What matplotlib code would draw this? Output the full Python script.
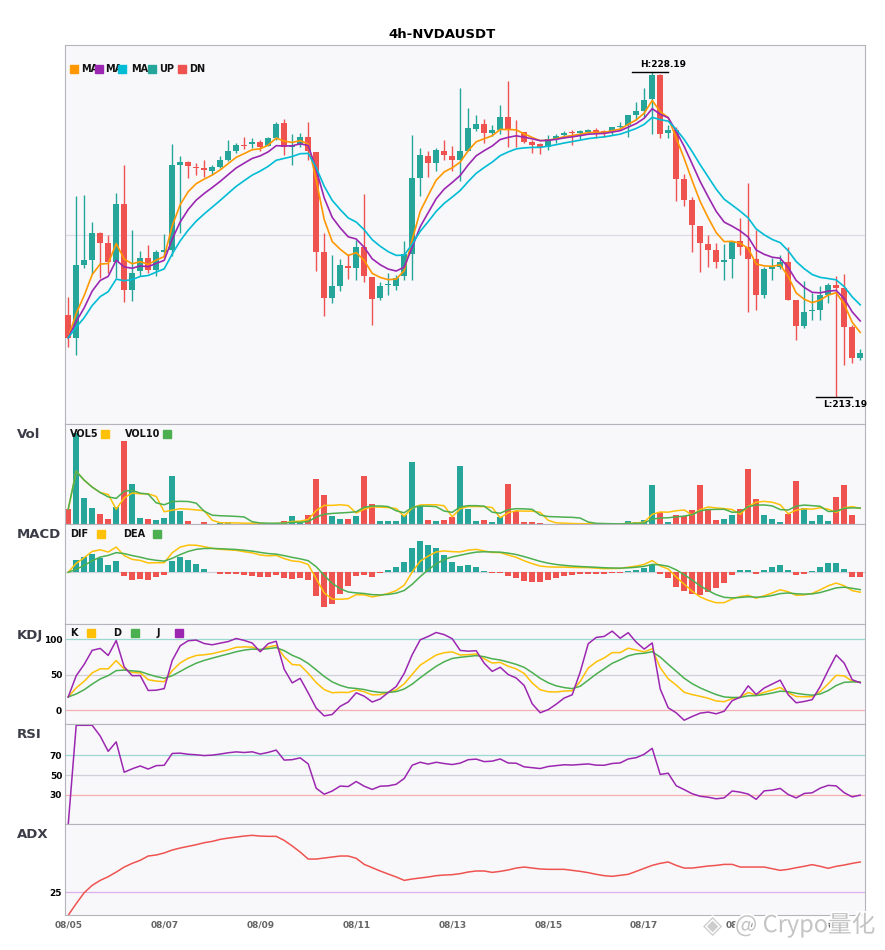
import numpy as np
import pandas as pd
import matplotlib
matplotlib.use('Agg')
import matplotlib.pyplot as plt
from matplotlib.patches import Rectangle
import matplotlib.patheffects as pe

# 4h candles, 08/05 .. 08/21
opens = [216.95, 215.92, 219.29, 219.52, 220.77, 220.28, 219.40, 222.10, 218.11, 218.99,
         219.62, 219.06, 219.86, 219.98, 223.90, 224.03, 223.80, 223.76, 223.62, 223.80,
         224.13, 224.54, 224.79, 224.85, 224.95, 224.77, 225.14, 225.83, 224.71, 224.80,
         225.19, 224.49, 219.89, 217.75, 218.33, 219.25, 219.13, 220.12, 218.74, 217.75,
         218.34, 218.33, 218.76, 219.80, 223.30, 224.31, 223.96, 224.54, 224.31, 224.14,
         224.54, 225.55, 225.78, 225.38, 225.51, 226.11, 225.51, 225.41, 224.95, 224.86,
         224.71, 225.09, 225.26, 225.38, 225.35, 225.43, 225.51, 225.46, 225.46, 225.62,
         225.74, 226.20, 226.38, 226.93, 228.04, 225.38, 225.51, 223.25, 222.29, 221.09,
         220.26, 219.99, 219.40, 219.54, 220.40, 220.09, 219.57, 217.91, 219.10, 219.17,
         219.42, 217.68, 216.46, 217.15, 217.22, 217.91, 218.34, 218.22, 216.41, 214.99]
highs = [217.78, 222.44, 222.52, 221.27, 220.81, 220.68, 222.59, 223.88, 220.90, 219.94,
         220.21, 219.98, 220.72, 224.86, 224.28, 224.05, 223.97, 224.13, 223.90, 224.28,
         225.05, 224.92, 225.17, 225.14, 225.05, 225.16, 225.89, 226.00, 225.32, 225.38,
         225.87, 224.49, 220.75, 219.75, 219.57, 219.79, 220.44, 222.56, 218.74, 218.48,
         218.91, 218.83, 220.40, 225.28, 224.65, 224.55, 224.66, 225.05, 224.77, 227.44,
         226.53, 226.20, 226.01, 225.74, 226.66, 227.74, 225.97, 225.41, 225.05, 224.92,
         225.26, 225.32, 225.46, 225.51, 225.51, 225.55, 225.58, 225.49, 225.66, 225.89,
         226.20, 226.78, 227.43, 228.19, 228.07, 225.74, 225.66, 223.48, 222.41, 221.09,
         220.67, 220.29, 220.26, 220.40, 221.44, 223.05, 220.91, 219.17, 219.60, 219.75,
         220.09, 217.68, 218.53, 217.99, 218.30, 218.45, 218.76, 218.84, 216.53, 215.38]
lows = [215.50, 215.12, 219.14, 218.88, 218.68, 218.91, 218.68, 217.56, 217.61, 218.76,
        218.91, 218.76, 219.68, 219.68, 220.75, 223.27, 223.44, 223.33, 223.44, 223.74,
        224.05, 224.43, 224.62, 224.65, 224.51, 224.74, 225.05, 224.36, 223.90, 224.71,
        224.13, 218.99, 216.92, 217.53, 218.07, 218.65, 218.60, 218.48, 216.53, 217.65,
        217.88, 218.11, 218.60, 218.60, 222.47, 223.33, 223.59, 224.10, 223.59, 223.17,
        224.54, 225.44, 224.89, 225.23, 225.32, 224.71, 224.71, 224.89, 224.46, 224.40,
        224.59, 224.92, 225.11, 224.82, 225.08, 225.32, 225.12, 225.20, 225.28, 225.58,
        225.20, 225.97, 226.12, 225.32, 225.12, 225.12, 222.21, 221.98, 219.86, 218.93,
        219.17, 219.14, 218.60, 218.68, 219.75, 217.10, 217.22, 217.76, 218.60, 219.07,
        217.64, 215.84, 216.38, 216.76, 216.76, 217.53, 213.19, 214.66, 214.77, 214.88]
closes = [215.92, 219.29, 219.52, 220.77, 220.28, 219.40, 222.10, 218.11, 218.91, 219.62,
          219.06, 219.89, 219.98, 223.90, 224.03, 223.85, 223.77, 223.65, 223.80, 224.13,
          224.54, 224.82, 224.75, 224.95, 224.72, 225.14, 225.78, 224.71, 224.80, 225.19,
          224.51, 219.86, 217.75, 218.33, 219.29, 219.13, 220.12, 218.76, 217.70, 218.33,
          218.39, 218.68, 219.80, 223.30, 224.36, 223.96, 224.59, 224.33, 224.14, 224.54,
          225.60, 225.78, 225.38, 225.51, 226.11, 225.51, 225.48, 224.95, 224.83, 224.71,
          225.08, 225.23, 225.38, 225.35, 225.44, 225.52, 225.41, 225.40, 225.62, 225.69,
          226.20, 226.38, 226.89, 228.04, 225.32, 225.51, 223.25, 222.29, 221.11, 220.28,
          219.96, 219.40, 219.52, 220.40, 220.09, 219.57, 217.88, 219.07, 219.17, 219.42,
          217.68, 216.46, 217.12, 217.22, 217.91, 218.34, 218.22, 216.41, 214.97, 215.23]
volumes = [45, 273, 79, 49, 31, 16, 51, 250, 121, 19,
           16, 13, 19, 145, 40, 10, 2, 7, 2, 3,
           7, 2, 2, 2, 2, 2, 3, 10, 25, 7,
           28, 136, 88, 25, 16, 16, 25, 145, 61, 10,
           10, 10, 28, 187, 55, 13, 10, 13, 22, 175,
           46, 10, 13, 7, 22, 121, 40, 7, 7, 4,
           2, 2, 2, 2, 1, 1, 1, 1, 1, 1,
           10, 7, 13, 118, 37, 7, 28, 25, 43, 118,
           46, 13, 16, 28, 46, 166, 76, 28, 16, 7,
           31, 130, 49, 10, 28, 10, 82, 118, 28, 1]
adx_vals = [0, 12.7, 24.6, 32.6, 38, 42, 47, 52.5, 56.5, 59.8,
            64.5, 65.6, 67.8, 71, 73.2, 75, 76.8, 79, 80.4, 82.6,
            84, 85.1, 86.2, 87, 86.2, 85.9, 85.9, 81.5, 75.4, 68.8,
            61.2, 61.2, 62.3, 63.4, 64.5, 64.5, 62, 55.4, 51.8, 48.2,
            44.9, 41.7, 38, 39.5, 40.6, 41.7, 43.1, 43.8, 44.2, 45.3,
            47.1, 48.2, 48.2, 46.7, 47.8, 49.3, 51.4, 52.5, 51.4, 50.4,
            50, 50, 50, 48.9, 47.8, 46.4, 44.6, 43.1, 42.4, 43.5,
            44.6, 47.8, 51.1, 54.3, 56.5, 58, 54.3, 51.4, 51.4, 52.5,
            53.6, 54.3, 55.4, 55.4, 52.5, 52.5, 52.5, 52.5, 50.7, 48.9,
            50, 51.8, 53.3, 55.1, 53.3, 51.1, 53.3, 54.7, 56.5, 58]
tick_pos = [0, 12, 24, 36, 48, 60, 72, 84, 96]
tick_labels = ['08/05', '08/07', '08/09', '08/11', '08/13', '08/15', '08/17', '08/19', '08/21']

UP = '#26a69a'
DN = '#ef5350'
C_MA5, C_MA10, C_MA20 = '#ff9800', '#9c27b0', '#00bcd4'
C_Y, C_G, C_P = '#ffc107', '#4caf50', '#9c27b0'
BG = '#f8f8fb'
SPINE = '#b4b4bc'

o = pd.Series(opens); h = pd.Series(highs); l = pd.Series(lows); c = pd.Series(closes)
v = pd.Series(volumes)
x = np.arange(len(c))
up = (c >= o).values
cols = np.where(up, UP, DN)

# indicators
ema_a = c.ewm(span=5, adjust=False).mean()
ema_b = c.ewm(span=8, adjust=False).mean()
ema_c = c.ewm(span=13, adjust=False).mean()
vol5 = v.rolling(5, min_periods=1).mean()
vol10 = v.rolling(10, min_periods=1).mean()
dif = c.ewm(span=6, adjust=False).mean() - c.ewm(span=13, adjust=False).mean()
dea = dif.ewm(span=5, adjust=False).mean()
hist = 2 * (dif - dea)
llv = l.rolling(9, min_periods=1).min()
hhv = h.rolling(9, min_periods=1).max()
rsv = (c - llv) / (hhv - llv) * 100
k = rsv.ewm(com=2, adjust=False).mean()
d = k.ewm(com=2, adjust=False).mean()
j = 3 * k - 2 * d
diff = c.diff().fillna(0)
g = diff.clip(lower=0).ewm(alpha=1 / 14, adjust=False).mean()
ls = (-diff.clip(upper=0)).ewm(alpha=1 / 14, adjust=False).mean()
rsi = (100 * g / (g + ls)).fillna(0)

W, H = 885, 950
fig = plt.figure(figsize=(W / 100, H / 100), dpi=100)

def panel(top, bottom):
    a = fig.add_axes([65 / W, 1 - bottom / H, 800 / W, (bottom - top) / H])
    a.set_facecolor(BG)
    for s in a.spines.values():
        s.set_color(SPINE)
        s.set_linewidth(0.8)
    a.set_xlim(-0.4, 99.6)
    a.set_xticks([])
    a.tick_params(axis='y', length=0, pad=2, labelsize=6.5)
    return a

def fx(px):
    return px / W

def fy(py):
    return 1 - py / H

def legend(items, yc):
    for xt, txt, xs, col in items:
        fig.text(fx(xt), fy(yc), txt, fontsize=7, fontweight='bold', va='center', ha='left', color='#111111')
        fig.add_artist(Rectangle((fx(xs), fy(yc + 4)), 8 / W, 8 / H, transform=fig.transFigure,
                                 color=col, zorder=10))

# main candle chart
ax = panel(45, 424.3)
ax.set_yticks([])
ax.set_ylim(211.93, 229.42)
ax.axhline((211.93 + 229.42) / 2, color='#dcdce4', lw=0.9, zorder=0)
ax.vlines(x, l, h, colors=cols, lw=1, zorder=2)
ax.bar(x, np.maximum((c - o).abs(), 0.04), bottom=np.minimum(o, c), width=0.74, color=cols, zorder=3)
ax.plot(x, ema_a, color=C_MA5, lw=1.2, zorder=4)
ax.plot(x, ema_b, color=C_MA10, lw=1.2, zorder=4)
ax.plot(x, ema_c, color=C_MA20, lw=1.2, zorder=4)
ih = int(h.idxmax()); il = int(l.idxmin())
ax.plot([ih - 2.5, ih + 2.0], [h[ih], h[ih]], color='black', lw=1)
ax.text(ih - 1.5, h[ih] + 0.12, f'H:{h[ih]:.2f}', fontsize=6.5, fontweight='bold', va='bottom', ha='left')
ax.plot([il - 2.5, il + 2.0], [l[il], l[il]], color='black', lw=1)
ax.text(il - 1.6, l[il] - 0.15, f'L:{l[il]:.2f}', fontsize=6.5, fontweight='bold', va='top', ha='left')
legend([(81, 'MA', 70, C_MA5), (105, 'MA', 95, C_MA10), (131, 'MA', 118, C_MA20),
        (159, 'UP', 148, UP), (189, 'DN', 178, DN)], 68.7)

# volume
av = panel(424.3, 524.3)
av.set_yticks([])
av.set_ylim(0, max(volumes) * 300 / 273)
av.bar(x, v, width=0.74, color=cols)
av.plot(x, vol5, color=C_Y, lw=1.1)
av.plot(x, vol10, color=C_G, lw=1.1)
legend([(70, 'VOL5', 101, C_Y), (125, 'VOL10', 163, C_G)], 434)

# MACD
am = panel(524.3, 624.3)
am.set_yticks([])
am.set_ylim(-2.81, 2.59)
am.axhline(0, color='#d0d0d8', lw=0.9, zorder=0)
am.bar(x, hist, width=0.74, color=np.where(hist >= 0, UP, DN))
am.plot(x, dif, color=C_Y, lw=1.1)
am.plot(x, dea, color=C_G, lw=1.1)
legend([(70, 'DIF', 97, C_Y), (123, 'DEA', 153, C_G)], 533.7)

# KDJ
ak = panel(624.3, 724.3)
ak.set_ylim(-20.2, 121.2)
ak.set_yticks([0, 50, 100])
ak.set_yticklabels(['0', '50', '100'], fontweight='bold')
ak.axhline(100, color='#9bd8cf', lw=0.9, zorder=0)
ak.axhline(50, color='#d0d0d8', lw=0.9, zorder=0)
ak.axhline(0, color='#f4b0b0', lw=0.9, zorder=0)
ak.plot(x, k, color=C_Y, lw=1.1)
ak.plot(x, d, color=C_G, lw=1.1)
ak.plot(x, j, color=C_P, lw=1.1)
legend([(70, 'K', 87, C_Y), (113, 'D', 131, C_G), (157, 'J', 175, C_P)], 633.3)

# RSI
ar = panel(724.3, 824.3)
ar.set_ylim(0.5, 101)
ar.set_yticks([30, 50, 70])
ar.set_yticklabels(['30', '50', '70'], fontweight='bold')
ar.axhline(70, color='#9bd8cf', lw=0.9, zorder=0)
ar.axhline(50, color='#d0d0d8', lw=0.9, zorder=0)
ar.axhline(30, color='#f4b0b0', lw=0.9, zorder=0)
ar.plot(x, rsi, color=C_P, lw=1.1)

# ADX
aa = panel(824.3, 915.3)
aa.set_ylim(0, 99)
aa.set_yticks([25])
aa.set_yticklabels(['25'], fontweight='bold')
aa.axhline(25, color='#dcb0e8', lw=0.9, zorder=0)
aa.plot(x, adx_vals, color=DN, lw=1.1)
aa.set_xticks(tick_pos)
aa.set_xticklabels(tick_labels, fontsize=6.5, fontweight='bold', color='#666666')
aa.tick_params(axis='x', length=0, pad=4)

for name, yc in [('Vol', 435), ('MACD', 535), ('KDJ', 635), ('RSI', 735), ('ADX', 835)]:
    fig.text(fx(17), fy(yc), name, fontsize=9.5, fontweight='bold', color='#3c3c48', va='center', ha='left')

fig.text(0.5, fy(34), '4h-NVDAUSDT', fontsize=9.5, fontweight='bold', ha='center', va='center')

# watermark
wm = [pe.withStroke(linewidth=2.5, foreground='white')]
fig.text(fx(703), fy(926), '◈', fontsize=18, color='#cdcdcd', ha='left', va='center', path_effects=wm, zorder=20)
fig.text(fx(735), fy(925), '@ Crypo量化', fontsize=17, color='#c4c4c4', ha='left', va='center',
         family=['Noto Sans CJK SC', 'DejaVu Sans'], path_effects=wm, zorder=20)

fig.savefig('out.png', dpi=100, facecolor='white')
